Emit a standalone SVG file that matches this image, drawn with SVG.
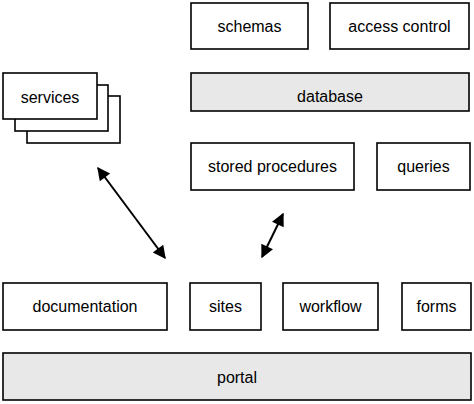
<svg xmlns="http://www.w3.org/2000/svg" width="474" height="404" viewBox="0 0 474 404">
<defs>
<style>
.box{fill:#fff;stroke:#000;stroke-width:1.6}
.grey{fill:#e8e8e8;stroke:#000;stroke-width:1.6}
text{font-family:"Liberation Sans",Arial,sans-serif;font-size:16px;fill:#000;text-anchor:middle}
.conn{stroke:#000;stroke-width:2;fill:none}
</style>
<marker id="ah2" viewBox="0 0 10 10" refX="9" refY="5" markerWidth="16" markerHeight="13" markerUnits="userSpaceOnUse" orient="auto-start-reverse">
<path d="M0,0 L10,5 L0,10 z" fill="#000"/>
</marker>
</defs>
<rect width="474" height="404" fill="#fff"/>
<g id="schemas"><rect class="box" x="191" y="3" width="117" height="46"/><text x="249.5" y="32">schemas</text></g>
<g id="access-control"><rect class="box" x="330" y="3" width="139" height="46"/><text x="399.5" y="32">access control</text></g>
<g id="database"><rect class="grey" x="191" y="73" width="278" height="38"/><text x="330" y="102">database</text></g>
<g id="stored-procedures"><rect class="box" x="191" y="143" width="163" height="47"/><text x="272.5" y="172">stored procedures</text></g>
<g id="queries"><rect class="box" x="377" y="143" width="93" height="47"/><text x="423.5" y="172">queries</text></g>
<g id="services">
<rect class="box" x="27" y="96" width="93" height="47"/>
<rect class="box" x="15" y="85" width="93" height="46"/>
<rect class="box" x="3" y="73" width="94" height="46"/>
<text x="50" y="103">services</text>
</g>
<g id="documentation"><rect class="box" x="3" y="283" width="164" height="47"/><text x="85" y="312">documentation</text></g>
<g id="sites"><rect class="box" x="190" y="283" width="71" height="47"/><text x="225.5" y="312">sites</text></g>
<g id="workflow"><rect class="box" x="283" y="283" width="95" height="47"/><text x="330.5" y="312">workflow</text></g>
<g id="forms"><rect class="box" x="402" y="283" width="69" height="47"/><text x="436.5" y="312">forms</text></g>
<g id="portal"><rect class="grey" x="3" y="353" width="468" height="47"/><text x="237" y="383">portal</text></g>
<g id="connectors">
<line class="conn" x1="98" y1="168" x2="165" y2="258" marker-start="url(#ah2)" marker-end="url(#ah2)"/>
<line class="conn" x1="283" y1="214" x2="262" y2="257" marker-start="url(#ah2)" marker-end="url(#ah2)"/>
</g>
</svg>
